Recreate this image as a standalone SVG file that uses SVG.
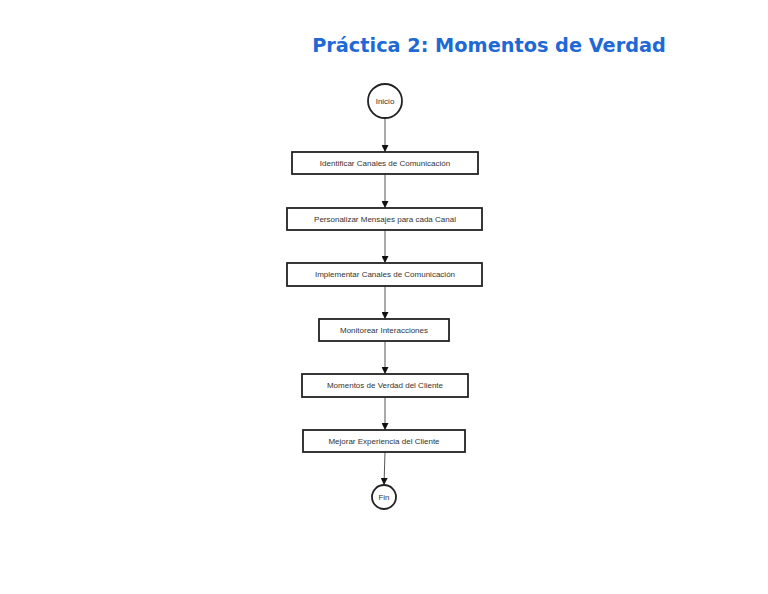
<svg xmlns="http://www.w3.org/2000/svg" width="768" height="594" viewBox="0 0 768 594">
<style>
.t{font-family:"DejaVu Sans",sans-serif;font-weight:bold;font-size:19.3px;fill:#1f69d6}
.n rect,.n circle{fill:#fff;stroke:#222;stroke-width:1.8}
.n text{font-family:"Liberation Sans",Arial,sans-serif;font-size:8px;fill:#333;text-anchor:middle}
.c line{stroke:#555;stroke-width:1}
</style>
<defs>
<marker id="a" viewBox="0 0 10 10" refX="10" refY="5" markerWidth="7" markerHeight="7" orient="auto" markerUnits="userSpaceOnUse"><path d="M0,0L10,5L0,10z" fill="#111"/></marker>
</defs>
<rect width="768" height="594" fill="#fff"/>
<text class="t" x="489" y="52" text-anchor="middle">Práctica 2: Momentos de Verdad</text>
<g class="c">
<line x1="385" y1="119" x2="385" y2="152" marker-end="url(#a)"/>
<line x1="385" y1="174" x2="385" y2="208" marker-end="url(#a)"/>
<line x1="385" y1="230" x2="385" y2="263" marker-end="url(#a)"/>
<line x1="385" y1="286" x2="385" y2="319" marker-end="url(#a)"/>
<line x1="385" y1="341" x2="385" y2="374" marker-end="url(#a)"/>
<line x1="385" y1="397" x2="385" y2="430" marker-end="url(#a)"/>
<line x1="385" y1="452" x2="384" y2="485" marker-end="url(#a)"/>
</g>
<g id="inicio" class="n"><circle cx="385" cy="101" r="17"/><text x="385" y="104">Inicio</text></g>
<g id="n1" class="n"><rect x="292" y="152" width="186" height="22"/><text x="385" y="166">Identificar Canales de Comunicación</text></g>
<g id="n2" class="n"><rect x="287" y="208" width="195" height="22"/><text x="385" y="222">Personalizar Mensajes para cada Canal</text></g>
<g id="n3" class="n"><rect x="287" y="263" width="195" height="23"/><text x="385" y="277">Implementar Canales de Comunicación</text></g>
<g id="n4" class="n"><rect x="319" y="319" width="130" height="22"/><text x="384" y="333">Monitorear Interacciones</text></g>
<g id="n5" class="n"><rect x="302" y="374" width="166" height="23"/><text x="385" y="388">Momentos de Verdad del Cliente</text></g>
<g id="n6" class="n"><rect x="303" y="430" width="162" height="22"/><text x="384" y="444">Mejorar Experiencia del Cliente</text></g>
<g id="fin" class="n"><circle cx="384" cy="497" r="12"/><text x="384" y="500">Fin</text></g>
</svg>
